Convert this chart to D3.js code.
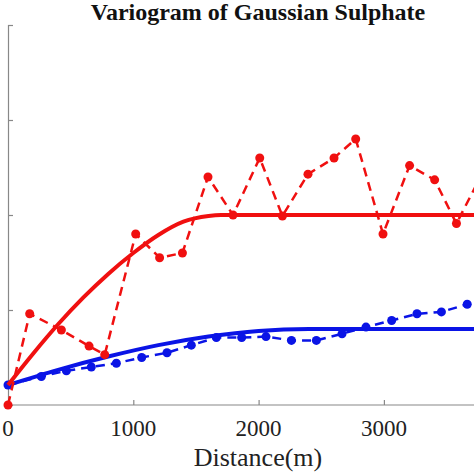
<!DOCTYPE html>
<html>
<head>
<meta charset="utf-8">
<script src="https://cdn.jsdelivr.net/npm/d3@7"></script>
<style>
  body { margin: 0; background: #fff; }
  svg { display: block; }
</style>
</head>
<body>
<div id="chart"></div>
<script>
// experimental variogram, red series
let redDist = [0, 173, 426, 647, 772, 1019, 1210, 1392, 1596, 1796, 2009, 2190, 2394, 2602, 2775, 2993, 3205, 3405, 3579, 3790];
let redGamma = [0, 0.96, 0.79, 0.62, 0.53, 1.80, 1.55, 1.60, 2.40, 2.00, 2.60, 1.99, 2.43, 2.60, 2.80, 1.80, 2.52, 2.37, 1.91, 2.45];
// fitted model, red
let redModelDist = [0, 200, 400, 600, 800, 1000, 1200, 1400, 1600, 1700, 3800];
let redModelGamma = [0.21, 0.54, 0.85, 1.13, 1.38, 1.60, 1.79, 1.93, 1.99, 2.0, 2.0];
// experimental variogram, blue series
let blueDist = [0, 266, 466, 665, 865, 1067, 1269, 1463, 1663, 1865, 2059, 2262, 2461, 2666, 2857, 3062, 3264, 3459, 3665];
let blueGamma = [0.21, 0.30, 0.36, 0.40, 0.44, 0.50, 0.55, 0.63, 0.71, 0.71, 0.72, 0.68, 0.68, 0.75, 0.82, 0.89, 0.96, 0.98, 1.06];
// fitted model, blue
let blueModelDist = [0, 400, 800, 1200, 1600, 2000, 2400, 3800];
let blueModelGamma = [0.21, 0.37, 0.51, 0.63, 0.72, 0.78, 0.80, 0.80];

let xTicks = [0, 1000, 2000, 3000];
let yTicks = [0, 1, 2, 3, 4];

let width = 474, height = 474;
let margin = {left: 8, top: 25, bottom: 69};

let svg = d3.select("#chart").append("svg")
  .attr("width", width).attr("height", height);

let x = d3.scaleLinear().domain([0, 1000]).range([margin.left, margin.left + 125.3]);
let y = d3.scaleLinear().domain([0, 4]).range([height - margin.bottom, margin.top]);

// axes
let xAxis = svg.append("g")
  .attr("transform", `translate(0,${y(0)})`)
  .call(d3.axisTop(x).tickValues(xTicks).tickSize(5).tickFormat(""));
xAxis.select(".domain").attr("d", `M${margin.left},0H${width}`);
xAxis.selectAll("line, path").attr("stroke", "#888").attr("stroke-width", 1.2);

let yAxis = svg.append("g")
  .attr("transform", `translate(${margin.left},0)`)
  .call(d3.axisRight(y).tickValues(yTicks).tickSize(5).tickFormat(""));
yAxis.selectAll("line, path").attr("stroke", "#888").attr("stroke-width", 1.2);

svg.selectAll(".xlab").data(xTicks).enter().append("text")
  .attr("x", d => x(d)).attr("y", 436)
  .attr("text-anchor", "middle")
  .attr("font-family", "Liberation Serif, Times New Roman, serif")
  .attr("font-size", "23px")
  .attr("fill", "#222")
  .text(d => d);

svg.append("text")
  .attr("x", 258).attr("y", 466)
  .attr("text-anchor", "middle")
  .attr("font-family", "Liberation Serif, Times New Roman, serif")
  .attr("font-size", "26px")
  .attr("fill", "#222")
  .text("Distance(m)");

svg.append("text")
  .attr("x", 258).attr("y", 20)
  .attr("text-anchor", "middle")
  .attr("font-family", "Liberation Serif, Times New Roman, serif")
  .attr("font-weight", "700")
  .attr("font-size", "24px")
  .attr("fill", "#111")
  .text("Variogram of Gaussian Sulphate");

function zip(a, b) { return a.map((d, i) => [d, b[i]]); }

let smooth = d3.line().x(d => x(d[0])).y(d => y(d[1])).curve(d3.curveMonotoneX);
let straight = d3.line().x(d => x(d[0])).y(d => y(d[1]));

function drawSeries(dist, gamma, mDist, mGamma, color) {
  svg.append("path")
    .datum(zip(mDist, mGamma))
    .attr("d", smooth)
    .attr("fill", "none").attr("stroke", color).attr("stroke-width", 4);
  svg.append("path")
    .datum(zip(dist, gamma))
    .attr("d", straight)
    .attr("fill", "none").attr("stroke", color).attr("stroke-width", 2.5)
    .attr("stroke-dasharray", "9,6");
  svg.append("g").selectAll("circle")
    .data(zip(dist, gamma)).enter().append("circle")
      .attr("cx", d => x(d[0])).attr("cy", d => y(d[1]))
      .attr("r", 4.5).attr("fill", color);
}

drawSeries(blueDist, blueGamma, blueModelDist, blueModelGamma, "#0a14e6");
drawSeries(redDist, redGamma, redModelDist, redModelGamma, "#f01010");
</script>
</body>
</html>
